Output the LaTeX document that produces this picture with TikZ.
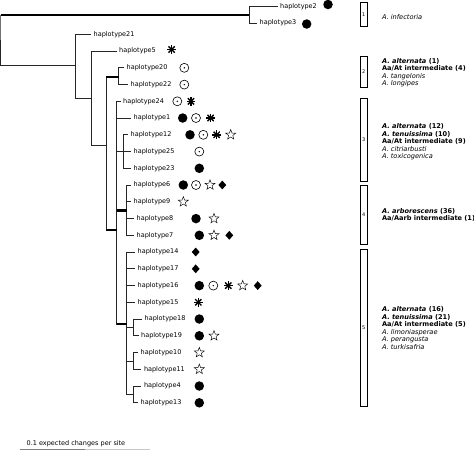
\documentclass[tikz,border=0pt]{standalone}
\usepackage{fontspec}
\setmainfont{DejaVu Sans}
\usetikzlibrary{shapes.geometric,positioning}

\tikzset{
  leaf/.style={anchor=west, inner xsep=2.5pt, inner ysep=1pt, font=\fontsize{6.5}{7}\selectfont},
  branch/.style={draw=black!85, line width=0.8pt},
  stem/.style={draw=black, line width=2.5pt},
  fullc/.style={circle, fill=black, minimum size=9.5pt, inner sep=0pt},
  dotc/.style={circle, draw=black, line width=0.6pt, minimum size=9pt, inner sep=0pt,
    path picture={\fill (path picture bounding box.center) circle (0.8pt);}},
  astk/.style={circle, minimum size=10pt, inner sep=0pt,
    path picture={\foreach \a in {0,45,90,135}
      \draw[shift={(path picture bounding box.center)}, line width=1.4pt] (\a:4.4pt) -- (\a+180:4.4pt);}},
  opstar/.style={star, star points=5, star point ratio=2.4, draw=black, line width=0.45pt, minimum size=10.5pt, inner sep=0pt},
  fulld/.style={diamond, fill=black, minimum width=8pt, minimum height=9pt, inner sep=0pt},
  grpbox/.style={rectangle, draw=black, line width=0.6pt, minimum width=7.3pt, inner sep=0pt, font=\fontsize{5}{5}\selectfont},
  grptext/.style={align=left, inner sep=0pt, font=\fontsize{6.6}{7.5}\selectfont},
}

\begin{document}
\begin{tikzpicture}[x=1pt, y=-1pt]
  \useasboundingbox (0,0) rectangle (474,451);

  % inner nodes of the tree
  \coordinate (nR) at (0.6,40);
  \coordinate (nE) at (249,15);
  \coordinate (nA) at (75,65);
  \coordinate (nB) at (91.7,98);
  \coordinate (nC) at (106.3,145);
  \coordinate (nF) at (118.8,77);
  \coordinate (nD) at (116.7,230);
  \coordinate (nI) at (123.3,151.6);
  \coordinate (nJ) at (126.7,210.7);
  \coordinate (nK) at (126.7,324);
  \coordinate (nL) at (133.3,327.4);
  \coordinate (nM) at (133.3,361);
  \coordinate (nN) at (133.3,394.4);

  % haplotypes
  \node[leaf] (h2) at (277.5,6.5) {haplotype2};
  \node[leaf] (h3) at (257,23) {haplotype3};
  \node[leaf] (h21) at (91,34.3) {haplotype21};
  \node[leaf] (h5) at (116.5,51) {haplotype5};
  \node[leaf] (h20) at (124,67.8) {haplotype20};
  \node[leaf] (h22) at (128,84.6) {haplotype22};
  \node[leaf] (h24) at (120.5,101.3) {haplotype24};
  \node[leaf] (h1) at (131,118) {haplotype1};
  \node[leaf] (h12) at (128,134.8) {haplotype12};
  \node[leaf] (h25) at (131,151.6) {haplotype25};
  \node[leaf] (h23) at (131,168.3) {haplotype23};
  \node[leaf] (h6) at (131,185) {haplotype6};
  \node[leaf] (h9) at (131,201.8) {haplotype9};
  \node[leaf] (h8) at (134,218.6) {haplotype8};
  \node[leaf] (h7) at (134,235.3) {haplotype7};
  \node[leaf] (h14) at (135,252) {haplotype14};
  \node[leaf] (h17) at (135,268.8) {haplotype17};
  \node[leaf] (h16) at (135,285.6) {haplotype16};
  \node[leaf] (h15) at (135,302.3) {haplotype15};
  \node[leaf] (h18) at (142,319) {haplotype18};
  \node[leaf] (h19) at (138.5,335.8) {haplotype19};
  \node[leaf] (h10) at (138,352.6) {haplotype10};
  \node[leaf] (h11) at (141.3,369.3) {haplotype11};
  \node[leaf] (h4) at (141.3,386) {haplotype4};
  \node[leaf] (h13) at (138,402.8) {haplotype13};

  % branches
  \draw[branch, draw=black!55] (nR) |- (nE);
  \draw[branch] (nR) |- (nA);
  \draw[branch] (nE) |- (h2.west);
  \draw[branch] (nE) |- (h3.west);
  \draw[branch] (nA) |- (h21.west);
  \draw[branch] (nA) |- (nB);
  \draw[branch] (nB) |- (h5.west);
  \draw[branch] (nB) |- (nC);
  \draw[branch] (nC) |- (nF);
  \draw[branch] (nC) |- (nD);
  \draw[branch] (nF) |- (h20.west);
  \draw[branch] (nF) |- (h22.west);
  \draw[branch] (nD) |- (h24.west);
  \draw[branch] (nD) |- (h1.west);
  \draw[branch] (nD) |- (nI);
  \draw[branch] (nD) |- (nJ);
  \draw[branch] (nD) |- (nK);
  \draw[branch] (nI) |- (h12.west);
  \draw[branch] (nI) |- (h25.west);
  \draw[branch] (nI) |- (h23.west);
  \draw[branch] (nJ) |- (h6.west);
  \draw[branch] (nJ) |- (h9.west);
  \draw[branch] (nJ) |- (h8.west);
  \draw[branch] (nJ) |- (h7.west);
  \draw[branch] (nK) |- (h14.west);
  \draw[branch] (nK) |- (h17.west);
  \draw[branch] (nK) |- (h16.west);
  \draw[branch] (nK) |- (h15.west);
  \draw[branch] (nK) |- (nL);
  \draw[branch] (nK) |- (nM);
  \draw[branch] (nK) |- (nN);
  \draw[branch] (nL) |- (h18.west);
  \draw[branch] (nL) |- (h19.west);
  \draw[branch] (nM) |- (h10.west);
  \draw[branch] (nM) |- (h11.west);
  \draw[branch] (nN) |- (h4.west);
  \draw[branch] (nN) |- (h13.west);

  \draw[stem] (nR |- nE) -- (nE);
  \draw[stem] (nC |- nF) -- (nF);
  \draw[stem] (nC |- nD) -- (nD);
  \draw[stem] (nD |- nJ) -- (nJ);
  \draw[stem] (nD |- nK) -- (nK);

  % symbols
  \foreach \x/\y [count=\i] in {328/4.5, 306.7/24, 182.7/118, 190/134.8, 199.3/168.3, 183.3/185, 196/218.6,
      199.3/235.3, 199.3/285.6, 199.3/319, 199.3/335.8, 199.3/386, 199.3/402.8}
    \node[fullc] (fc\i) at (\x,\y) {};
  \foreach \x/\y [count=\i] in {184.3/67.8, 184.3/84.6, 177.3/101.3, 196/118, 203.3/134.8, 199.3/151.6,
      196/185, 213.3/285.6}
    \node[dotc] (dc\i) at (\x,\y) {};
  \foreach \x/\y [count=\i] in {171.7/49.5, 191/101.3, 210.7/118, 216.7/134.8, 228.3/285.6, 198.3/302.3}
    \node[astk] (ak\i) at (\x,\y) {};
  \foreach \x/\y [count=\i] in {230.7/134.8, 210/185, 183.3/201.8, 214/218.6, 214/235.3, 242.7/285.6,
      214/335.8, 199.3/352.6, 199.3/369.3}
    \node[opstar] (os\i) at (\x,\y) {};
  \foreach \x/\y [count=\i] in {222.3/185, 229.3/235.3, 195.7/252, 195.7/268.8, 257.7/285.6}
    \node[fulld] (fd\i) at (\x,\y) {};

  % groups
  \node[grpbox, minimum height=24pt] (g1) at (363.7,14.7) {1};
  \node[grpbox, minimum height=31pt] (g2) at (363.7,72) {2};
  \node[grpbox, minimum height=83pt] (g3) at (363.7,139.5) {3};
  \node[grpbox, minimum height=59pt] (g4) at (363.7,215) {4};
  \node[grpbox, minimum height=156.5pt] (g5) at (363.7,327.8) {5};

  \node[grptext, right=14.2pt of g1, yshift=-2pt] (s1) {\textit{A. infectoria}};
  \node[grptext, right=14.2pt of g2, yshift=-0.5pt] (s2) {\textbf{\textit{A. alternata} (1)}\\ \textbf{Aa/At intermediate (4)}\\
    \textit{A. tangelonis}\\ \textit{A. longipes}};
  \node[grptext, right=14.2pt of g3, yshift=-2.5pt] (s3) {\textbf{\textit{A. alternata} (12)}\\ \textbf{\textit{A. tenuissima} (10)}\\
    \textbf{Aa/At intermediate (9)}\\ \textit{A. citriarbusti}\\ \textit{A. toxicogenica}};
  \node[grptext, right=14.2pt of g4] (s4) {\textbf{\textit{A. arborescens} (36)}\\ \textbf{Aa/Aarb intermediate (1)}};
  \node[grptext, right=14.2pt of g5] (s5) {\textbf{\textit{A. alternata} (16)}\\ \textbf{\textit{A. tenuissima} (21)}\\
    \textbf{Aa/At intermediate (5)}\\ \textit{A. limoniasperae}\\ \textit{A. perangusta}\\ \textit{A. turkisafria}};

  % scale
  \node[leaf, inner xsep=0pt] (scl) at (26.5,443.5) {0.1 expected changes per site};
  \draw[line width=1.4pt, black!50] (20,449.6) -- (85,449.6);
  \draw[line width=1.4pt, black!22] (85,449.6) -- (150,449.6);

\end{tikzpicture}
\end{document}
